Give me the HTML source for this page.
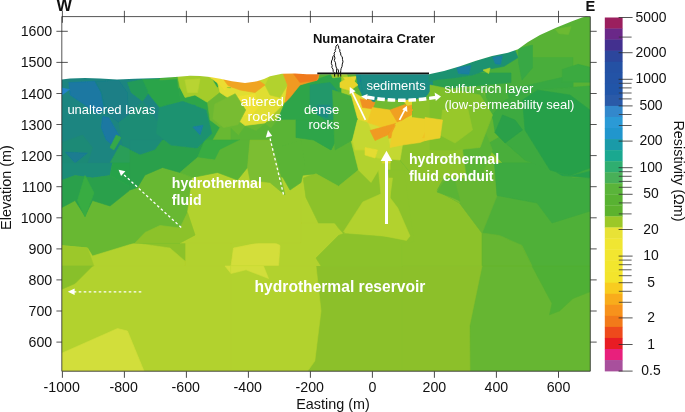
<!DOCTYPE html>
<html><head><meta charset="utf-8"><title>Resistivity section</title>
<style>
html,body{margin:0;padding:0;background:#fff;}
body{width:685px;height:412px;overflow:hidden;font-family:"Liberation Sans",Arial,sans-serif;}
svg text{font-family:"Liberation Sans",Arial,sans-serif;}
.tk{font-size:14.2px;fill:#111;}
.bd{font-weight:bold;fill:#111;}
.wl{fill:#fff;font-size:13px;}
.wb{fill:#fff;font-size:14.1px;font-weight:bold;}
</style></head><body>
<svg width="685" height="412" viewBox="0 0 685 412" style="display:block">
<defs><clipPath id="tc"><polygon points="61.8,79.5 70.0,78.6 85.0,78.0 100.0,78.6 117.0,79.4 135.0,78.8 160.0,78.0 175.0,77.0 190.0,75.8 200.0,76.0 210.0,77.0 220.0,78.8 232.0,81.2 245.0,83.0 257.0,81.3 264.0,79.0 270.0,76.3 282.0,73.8 295.0,73.6 307.0,74.3 317.0,74.2 340.0,74.2 380.0,74.2 429.0,74.2 444.0,71.0 460.0,66.2 476.0,60.7 492.0,55.9 508.0,52.7 518.0,49.2 528.0,42.1 540.0,35.0 556.0,27.7 572.0,21.2 582.0,17.5 586.0,16.4 590.3,17.0 590.3,371.2 61.8,371.2"/></clipPath>
<marker id="ah" viewBox="0 0 10 10" refX="7" refY="5" markerWidth="7" markerHeight="7" markerUnits="userSpaceOnUse" orient="auto"><path d="M0,0.8 L10,5 L0,9.2 z" fill="#fff"/></marker>
<filter id="bl" x="-2%" y="-2%" width="104%" height="104%"><feGaussianBlur stdDeviation="0.6"/></filter>
</defs>
<rect width="685" height="412" fill="#fff"/>
<path d="M56.4,342.1 H67.8" stroke="#2a2a2a" stroke-width="0.8"/>
<path d="M586.3,342.1 H596.6999999999999" stroke="#2a2a2a" stroke-width="0.8"/>
<text x="52.2" y="347.1" text-anchor="end" class="tk">600</text>
<path d="M56.4,311.0 H67.8" stroke="#2a2a2a" stroke-width="0.8"/>
<path d="M586.3,311.0 H596.6999999999999" stroke="#2a2a2a" stroke-width="0.8"/>
<text x="52.2" y="316.0" text-anchor="end" class="tk">700</text>
<path d="M56.4,279.9 H67.8" stroke="#2a2a2a" stroke-width="0.8"/>
<path d="M586.3,279.9 H596.6999999999999" stroke="#2a2a2a" stroke-width="0.8"/>
<text x="52.2" y="284.9" text-anchor="end" class="tk">800</text>
<path d="M56.4,248.9 H67.8" stroke="#2a2a2a" stroke-width="0.8"/>
<path d="M586.3,248.9 H596.6999999999999" stroke="#2a2a2a" stroke-width="0.8"/>
<text x="52.2" y="253.9" text-anchor="end" class="tk">900</text>
<path d="M56.4,217.8 H67.8" stroke="#2a2a2a" stroke-width="0.8"/>
<path d="M586.3,217.8 H596.6999999999999" stroke="#2a2a2a" stroke-width="0.8"/>
<text x="52.2" y="222.8" text-anchor="end" class="tk">1000</text>
<path d="M56.4,186.7 H67.8" stroke="#2a2a2a" stroke-width="0.8"/>
<path d="M586.3,186.7 H596.6999999999999" stroke="#2a2a2a" stroke-width="0.8"/>
<text x="52.2" y="191.7" text-anchor="end" class="tk">1100</text>
<path d="M56.4,155.6 H67.8" stroke="#2a2a2a" stroke-width="0.8"/>
<path d="M586.3,155.6 H596.6999999999999" stroke="#2a2a2a" stroke-width="0.8"/>
<text x="52.2" y="160.6" text-anchor="end" class="tk">1200</text>
<path d="M56.4,124.5 H67.8" stroke="#2a2a2a" stroke-width="0.8"/>
<path d="M586.3,124.5 H596.6999999999999" stroke="#2a2a2a" stroke-width="0.8"/>
<text x="52.2" y="129.5" text-anchor="end" class="tk">1300</text>
<path d="M56.4,93.5 H67.8" stroke="#2a2a2a" stroke-width="0.8"/>
<path d="M586.3,93.5 H596.6999999999999" stroke="#2a2a2a" stroke-width="0.8"/>
<text x="52.2" y="98.5" text-anchor="end" class="tk">1400</text>
<path d="M56.4,62.4 H67.8" stroke="#2a2a2a" stroke-width="0.8"/>
<path d="M586.3,62.4 H596.6999999999999" stroke="#2a2a2a" stroke-width="0.8"/>
<text x="52.2" y="67.4" text-anchor="end" class="tk">1500</text>
<path d="M56.4,31.3 H67.8" stroke="#2a2a2a" stroke-width="0.8"/>
<path d="M586.3,31.3 H596.6999999999999" stroke="#2a2a2a" stroke-width="0.8"/>
<text x="52.2" y="36.3" text-anchor="end" class="tk">1600</text>
<path d="M62.4,10.8 V22.8" stroke="#2a2a2a" stroke-width="0.8"/>
<path d="M62.4,371.2 V377.8" stroke="#333" stroke-width="0.9"/>
<text x="61.7" y="391.7" text-anchor="middle" class="tk">-1000</text>
<path d="M124.4,10.8 V22.8" stroke="#2a2a2a" stroke-width="0.8"/>
<path d="M124.4,371.2 V377.8" stroke="#333" stroke-width="0.9"/>
<text x="123.7" y="391.7" text-anchor="middle" class="tk">-800</text>
<path d="M186.4,10.8 V22.8" stroke="#2a2a2a" stroke-width="0.8"/>
<path d="M186.4,371.2 V377.8" stroke="#333" stroke-width="0.9"/>
<text x="185.8" y="391.7" text-anchor="middle" class="tk">-600</text>
<path d="M248.4,10.8 V22.8" stroke="#2a2a2a" stroke-width="0.8"/>
<path d="M248.4,371.2 V377.8" stroke="#333" stroke-width="0.9"/>
<text x="247.8" y="391.7" text-anchor="middle" class="tk">-400</text>
<path d="M310.4,10.8 V22.8" stroke="#2a2a2a" stroke-width="0.8"/>
<path d="M310.4,371.2 V377.8" stroke="#333" stroke-width="0.9"/>
<text x="309.8" y="391.7" text-anchor="middle" class="tk">-200</text>
<path d="M372.4,10.8 V22.8" stroke="#2a2a2a" stroke-width="0.8"/>
<path d="M372.4,371.2 V377.8" stroke="#333" stroke-width="0.9"/>
<text x="372.4" y="391.7" text-anchor="middle" class="tk">0</text>
<path d="M434.4,10.8 V22.8" stroke="#2a2a2a" stroke-width="0.8"/>
<path d="M434.4,371.2 V377.8" stroke="#333" stroke-width="0.9"/>
<text x="434.4" y="391.7" text-anchor="middle" class="tk">200</text>
<path d="M496.4,10.8 V22.8" stroke="#2a2a2a" stroke-width="0.8"/>
<path d="M496.4,371.2 V377.8" stroke="#333" stroke-width="0.9"/>
<text x="496.4" y="391.7" text-anchor="middle" class="tk">400</text>
<path d="M558.5,10.8 V22.8" stroke="#2a2a2a" stroke-width="0.8"/>
<path d="M558.5,371.2 V377.8" stroke="#333" stroke-width="0.9"/>
<text x="558.5" y="391.7" text-anchor="middle" class="tk">600</text>
<g clip-path="url(#tc)"><g filter="url(#bl)">
<rect x="60" y="10" width="535" height="365" fill="#58b234"/>
<polygon points="60.0,75.0 160.0,75.0 165.0,122.5 190.0,142.5 185.0,163.0 60.0,163.0" fill="#1c8580" stroke="#1c8580" stroke-width="0.6" stroke-linejoin="round"/>
<polygon points="160.0,75.0 231.0,75.0 231.0,163.0 185.0,163.0 190.0,142.5 165.0,122.5" fill="#2fa648" stroke="#2fa648" stroke-width="0.6" stroke-linejoin="round"/>
<polygon points="231.0,75.0 291.0,72.5 287.2,95.0 291.0,110.0 293.5,130.0 281.0,135.0 231.0,125.0" fill="#a6cc2c" stroke="#a6cc2c" stroke-width="0.6" stroke-linejoin="round"/>
<polygon points="231.0,117.5 246.0,123.8 261.0,121.2 281.0,132.5 293.5,127.5 306.0,145.0 301.0,163.0 231.0,163.0" fill="#74bc30" stroke="#74bc30" stroke-width="0.6" stroke-linejoin="round"/>
<polygon points="287.2,95.0 306.0,82.5 318.5,78.8 333.5,73.8 341.0,85.0 348.5,110.0 343.5,135.0 331.0,163.0 301.0,163.0 306.0,145.0 293.5,130.0 291.0,110.0" fill="#2ea548" stroke="#2ea548" stroke-width="0.6" stroke-linejoin="round"/>
<polygon points="402.0,72.5 484.5,57.5 573.0,57.5 573.0,163.0 402.0,163.0" fill="#48ae3a" stroke="#48ae3a" stroke-width="0.6" stroke-linejoin="round"/>
<polygon points="507.0,90.0 573.0,75.0 573.0,163.0 542.0,163.0 519.5,135.0" fill="#38a842" stroke="#38a842" stroke-width="0.6" stroke-linejoin="round"/>
<polygon points="60.0,163.0 231.0,163.0 231.0,266.0 60.0,266.0" fill="#68b832"/>
<polygon points="231.0,163.0 402.0,163.0 402.0,266.0 231.0,266.0" fill="#b2d22e"/>
<polygon points="402.0,163.0 592.0,163.0 592.0,266.0 402.0,266.0" fill="#50b038"/>
<polygon points="60.0,266.0 231.0,266.0 231.0,373.5 60.0,373.5" fill="#b2d22e"/>
<polygon points="231.0,266.0 402.0,266.0 402.0,373.5 231.0,373.5" fill="#8cc02a"/>
<polygon points="402.0,266.0 592.0,266.0 592.0,373.5 402.0,373.5" fill="#66b630"/>
<polygon points="68.8,82.5 95.0,81.2 101.2,92.5 103.8,110.0 97.5,113.8 85.0,105.0 70.0,95.0" fill="#1a78a2" stroke="#1a78a2" stroke-width="0.6" stroke-linejoin="round"/>
<polygon points="62.0,88.0 69.5,89.5 62.0,95.0" fill="#2284c8" stroke="#2284c8" stroke-width="0.6" stroke-linejoin="round"/>
<polygon points="95.0,81.2 118.8,80.0 127.5,92.5 128.8,115.0 118.8,122.5 106.2,113.8 101.2,92.5" fill="#1a7f86" stroke="#1a7f86" stroke-width="0.6" stroke-linejoin="round"/>
<polygon points="102.5,116.2 108.8,117.5 118.8,135.0 113.8,146.2 106.2,140.0 101.2,127.5" fill="#1a78a2" stroke="#1a78a2" stroke-width="0.6" stroke-linejoin="round"/>
<polygon points="127.5,82.5 142.5,79.5 148.8,92.5 142.5,101.2 131.2,92.5" fill="#239a58" stroke="#239a58" stroke-width="0.6" stroke-linejoin="round"/>
<polygon points="142.5,79.5 162.5,78.8 158.8,92.5 148.8,92.5" fill="#2aa44a" stroke="#2aa44a" stroke-width="0.6" stroke-linejoin="round"/>
<polygon points="160.0,78.8 177.5,77.5 182.5,90.0 177.5,110.0 165.0,105.0 158.8,92.5" fill="#50b038" stroke="#50b038" stroke-width="0.6" stroke-linejoin="round"/>
<polygon points="177.5,77.5 200.0,77.0 210.0,87.5 200.0,95.0 190.0,97.5 182.5,90.0" fill="#a4cc2c" stroke="#a4cc2c" stroke-width="0.6" stroke-linejoin="round"/>
<polygon points="180.0,80.0 192.5,78.8 190.0,95.0 182.5,90.0" fill="#b8d430" stroke="#b8d430" stroke-width="0.6" stroke-linejoin="round"/>
<polygon points="190.0,78.8 212.5,80.0 210.0,92.5 197.5,97.5" fill="#88c22c" stroke="#88c22c" stroke-width="0.6" stroke-linejoin="round"/>
<polygon points="215.0,79.5 231.0,81.2 231.0,87.5 222.5,86.2" fill="#f0dc28" stroke="#f0dc28" stroke-width="0.6" stroke-linejoin="round"/>
<polygon points="225.0,80.0 231.0,79.5 231.0,83.8" fill="#f2a820" stroke="#f2a820" stroke-width="0.6" stroke-linejoin="round"/>
<polygon points="207.5,87.5 231.0,87.5 231.0,102.5 220.0,107.5 210.0,102.5" fill="#8cc42c" stroke="#8cc42c" stroke-width="0.6" stroke-linejoin="round"/>
<polygon points="182.5,105.0 190.0,107.5 195.0,125.0 205.0,127.5 202.5,135.0 192.5,132.5 182.5,140.0 180.0,135.0 187.5,127.5" fill="#1f907a" stroke="#1f907a" stroke-width="0.6" stroke-linejoin="round"/>
<polygon points="210.0,105.0 216.2,110.0 215.0,142.5 210.0,150.0 206.2,135.0 207.5,120.0" fill="#239468" stroke="#239468" stroke-width="0.6" stroke-linejoin="round"/>
<polygon points="62.0,142.5 82.5,135.0 92.5,147.5 87.5,163.0 62.0,163.0" fill="#1d8a76" stroke="#1d8a76" stroke-width="0.6" stroke-linejoin="round"/>
<polygon points="65.0,152.0 87.5,153.0 75.0,163.0" fill="#1a7c90" stroke="#1a7c90" stroke-width="0.6" stroke-linejoin="round"/>
<polygon points="116.2,135.0 121.2,137.5 113.8,150.0 110.0,147.5" fill="#35a84a" stroke="#35a84a" stroke-width="0.6" stroke-linejoin="round"/>
<polygon points="142.5,101.2 160.0,125.0 163.8,142.5 142.5,155.0 122.5,145.0 118.8,122.5 128.8,115.0" fill="#1f8c74" stroke="#1f8c74" stroke-width="0.6" stroke-linejoin="round"/>
<polygon points="120.0,145.0 142.5,155.0 165.0,145.0 185.0,163.0 110.0,163.0" fill="#2a9e58" stroke="#2a9e58" stroke-width="0.6" stroke-linejoin="round"/>
<polygon points="190.0,142.5 210.0,150.0 220.0,163.0 195.0,163.0" fill="#4caf3a" stroke="#4caf3a" stroke-width="0.6" stroke-linejoin="round"/>
<polygon points="220.0,145.0 231.0,142.5 231.0,163.0 222.5,163.0" fill="#90c630" stroke="#90c630" stroke-width="0.6" stroke-linejoin="round"/>
<polygon points="231.0,81.2 246.0,83.0 258.5,79.5 253.5,87.5 241.0,89.2 231.0,87.5" fill="#f0a822" stroke="#f0a822" stroke-width="0.6" stroke-linejoin="round"/>
<polygon points="231.0,87.5 241.0,89.2 246.5,95.0 238.5,103.0 231.0,100.0" fill="#e8d830" stroke="#e8d830" stroke-width="0.6" stroke-linejoin="round"/>
<polygon points="236.0,105.5 248.5,103.0 251.5,115.5 241.0,120.0 233.5,115.5" fill="#dcd830" stroke="#dcd830" stroke-width="0.6" stroke-linejoin="round"/>
<polygon points="258.5,79.5 271.0,75.0 283.5,78.8 281.0,90.0 268.5,93.0 256.0,90.0" fill="#c6d82e" stroke="#c6d82e" stroke-width="0.6" stroke-linejoin="round"/>
<polygon points="272.2,74.5 291.0,73.0 282.2,83.8" fill="#ecd428" stroke="#ecd428" stroke-width="0.6" stroke-linejoin="round"/>
<polygon points="282.2,83.8 291.0,73.8 317.2,73.0 318.0,78.8 306.0,83.0 296.0,88.0 287.2,95.0 283.5,90.0" fill="#f29a20" stroke="#f29a20" stroke-width="0.6" stroke-linejoin="round"/>
<polygon points="298.5,75.0 316.5,73.5 316.5,79.0 306.0,81.5" fill="#f07a1c" stroke="#f07a1c" stroke-width="0.6" stroke-linejoin="round"/>
<polygon points="303.5,85.0 318.5,80.0 331.0,87.5 336.0,102.5 326.0,113.0 313.5,118.0 303.5,110.0 301.0,97.5" fill="#21986a" stroke="#21986a" stroke-width="0.6" stroke-linejoin="round"/>
<polygon points="306.0,112.5 316.0,117.5 311.5,125.5 303.5,120.0" fill="#1f9070" stroke="#1f9070" stroke-width="0.6" stroke-linejoin="round"/>
<polygon points="331.0,74.0 346.5,74.0 351.5,85.0 341.5,93.0 336.0,85.0" fill="#a0cc2c" stroke="#a0cc2c" stroke-width="0.6" stroke-linejoin="round"/>
<polygon points="343.5,77.5 356.5,76.5 351.5,88.0" fill="#e8d830" stroke="#e8d830" stroke-width="0.6" stroke-linejoin="round"/>
<polygon points="356.0,74.0 402.0,74.0 402.0,97.5 381.0,100.0 374.0,105.5 363.5,97.5 358.5,87.5" fill="#1a8c84" stroke="#1a8c84" stroke-width="0.6" stroke-linejoin="round"/>
<polygon points="360.2,80.0 363.5,80.0 363.0,85.0" fill="#2060b0" stroke="#2060b0" stroke-width="0.6" stroke-linejoin="round"/>
<polygon points="348.5,110.0 356.0,103.8 366.0,109.5 381.0,102.0 402.0,99.5 402.0,163.0 381.0,163.0 371.0,135.0 356.0,125.5" fill="#dcd830" stroke="#dcd830" stroke-width="0.6" stroke-linejoin="round"/>
<polygon points="358.5,97.5 371.0,100.0 374.0,106.5 366.0,109.2 356.0,104.0" fill="#f09020" stroke="#f09020" stroke-width="0.6" stroke-linejoin="round"/>
<polygon points="341.0,92.5 351.5,87.5 358.5,97.5 356.0,104.0 348.5,110.0" fill="#a4cc2c" stroke="#a4cc2c" stroke-width="0.6" stroke-linejoin="round"/>
<polygon points="373.5,130.5 391.0,122.5 402.0,120.0 402.0,133.0 386.0,135.5" fill="#f0a020" stroke="#f0a020" stroke-width="0.6" stroke-linejoin="round"/>
<polygon points="371.0,135.0 386.0,137.5 391.5,153.0 381.0,163.0 374.0,155.5" fill="#c0d630" stroke="#c0d630" stroke-width="0.6" stroke-linejoin="round"/>
<polygon points="343.5,135.0 356.0,125.5 371.0,135.0 374.0,155.5 381.0,163.0 331.0,163.0" fill="#a4cc2c" stroke="#a4cc2c" stroke-width="0.6" stroke-linejoin="round"/>
<polygon points="261.0,135.0 281.0,132.5 293.5,127.5 306.0,145.0 301.0,163.0 266.0,163.0" fill="#8cc42c" stroke="#8cc42c" stroke-width="0.6" stroke-linejoin="round"/>
<polygon points="402.0,72.5 429.5,72.5 430.0,90.0 417.0,95.0 402.0,97.5" fill="#1a8c84" stroke="#1a8c84" stroke-width="0.6" stroke-linejoin="round"/>
<polygon points="444.5,85.0 467.0,82.5 484.5,92.5 487.0,110.0 464.5,117.5 447.0,105.0" fill="#7cbe30" stroke="#7cbe30" stroke-width="0.6" stroke-linejoin="round"/>
<polygon points="417.0,95.0 430.0,90.0 447.0,97.5 459.5,103.0 464.5,135.0 442.0,143.0 439.5,135.0 442.0,117.5 427.0,102.5" fill="#98c82c" stroke="#98c82c" stroke-width="0.6" stroke-linejoin="round"/>
<polygon points="402.0,97.5 417.0,95.0 427.0,102.5 442.0,117.5 439.5,135.0 419.5,143.0 402.0,143.0" fill="#e4d82c" stroke="#e4d82c" stroke-width="0.6" stroke-linejoin="round"/>
<polygon points="402.0,107.5 412.0,105.0 415.0,113.0 402.0,120.0" fill="#f0a020" stroke="#f0a020" stroke-width="0.6" stroke-linejoin="round"/>
<polygon points="427.0,122.5 442.0,117.5 440.8,135.0 424.5,138.0" fill="#f0c424" stroke="#f0c424" stroke-width="0.6" stroke-linejoin="round"/>
<polygon points="497.0,117.5 507.0,115.0 519.5,127.5 512.0,138.0 494.5,135.0" fill="#2c9f4c" stroke="#2c9f4c" stroke-width="0.6" stroke-linejoin="round"/>
<polygon points="402.0,143.0 419.5,143.0 439.5,135.0 464.5,135.0 484.5,145.0 502.0,163.0 402.0,163.0" fill="#8cc42c" stroke="#8cc42c" stroke-width="0.6" stroke-linejoin="round"/>
<polygon points="464.5,117.5 487.0,110.0 502.0,135.0 484.5,145.0 464.5,135.0" fill="#64b632" stroke="#64b632" stroke-width="0.6" stroke-linejoin="round"/>
<polygon points="60.0,163.0 112.5,163.0 110.0,175.5 92.5,178.0 75.0,175.5 60.0,181.0" fill="#1f8c78" stroke="#1f8c78" stroke-width="0.6" stroke-linejoin="round"/>
<polygon points="60.0,181.0 75.0,175.5 92.5,178.0 110.0,175.5 132.5,188.0 110.0,206.0 92.5,200.5 85.0,216.0 75.0,200.5 60.0,208.5" fill="#2aa04c" stroke="#2aa04c" stroke-width="0.6" stroke-linejoin="round"/>
<polygon points="85.0,175.5 94.0,193.0 85.0,217.0 77.5,200.5" fill="#38ac42" stroke="#38ac42" stroke-width="0.6" stroke-linejoin="round"/>
<polygon points="112.5,163.0 147.5,163.0 142.5,178.0 132.5,188.0 110.0,175.5" fill="#28a24a" stroke="#28a24a" stroke-width="0.6" stroke-linejoin="round"/>
<polygon points="147.5,163.0 190.0,163.0 180.0,173.0 160.0,188.0 142.5,178.0" fill="#4cb038" stroke="#4cb038" stroke-width="0.6" stroke-linejoin="round"/>
<polygon points="180.0,173.0 231.0,170.5 231.0,266.0 185.0,266.0 185.0,240.5 197.5,235.5 190.0,208.0" fill="#b2d22e" stroke="#b2d22e" stroke-width="0.6" stroke-linejoin="round"/>
<polygon points="135.0,243.0 142.5,238.0 160.0,225.5 180.0,228.5 190.0,208.0 197.5,235.5 185.0,240.5 185.0,261.0 170.0,248.0" fill="#8cc22c" stroke="#8cc22c" stroke-width="0.6" stroke-linejoin="round"/>
<polygon points="60.0,245.5 87.5,248.0 92.5,256.0 135.0,243.0 170.0,248.0 185.0,261.0 185.0,266.0 60.0,266.0" fill="#b2d22e" stroke="#b2d22e" stroke-width="0.6" stroke-linejoin="round"/>
<polygon points="60.0,245.5 87.5,248.0 93.8,266.0 60.0,266.0" fill="#9cc82c" stroke="#9cc82c" stroke-width="0.6" stroke-linejoin="round"/>
<polygon points="231.0,163.0 276.0,163.0 281.0,178.0 256.0,175.5 246.0,168.0 231.0,178.5" fill="#84c02c" stroke="#84c02c" stroke-width="0.6" stroke-linejoin="round"/>
<polygon points="276.0,163.0 358.5,163.0 356.0,173.0 338.5,187.0 316.0,173.0 281.0,178.0" fill="#68b632" stroke="#68b632" stroke-width="0.6" stroke-linejoin="round"/>
<polygon points="303.5,178.0 316.0,173.0 338.5,187.0 356.0,173.0 371.0,183.0 378.5,170.5 381.0,195.5 361.0,205.5 343.5,233.5 338.5,228.0 316.0,198.0 303.5,198.0" fill="#8cc22c" stroke="#8cc22c" stroke-width="0.6" stroke-linejoin="round"/>
<polygon points="281.0,178.0 296.5,180.5 287.2,200.5" fill="#8cc22c" stroke="#8cc22c" stroke-width="0.6" stroke-linejoin="round"/>
<polygon points="391.0,163.0 402.0,163.0 402.0,266.0 321.0,266.0 316.0,258.0 338.5,235.5 343.5,233.5 402.0,238.0 391.0,213.0" fill="#8cc22c" stroke="#8cc22c" stroke-width="0.6" stroke-linejoin="round"/>
<polygon points="233.5,248.0 271.0,240.5 280.0,245.5 278.5,266.0 231.0,266.0" fill="#d4de3a" stroke="#d4de3a" stroke-width="0.6" stroke-linejoin="round"/>
<polygon points="402.0,163.0 452.0,163.0 437.0,190.5 459.5,203.0 482.0,233.0 482.0,266.0 402.0,266.0" fill="#8cc22c" stroke="#8cc22c" stroke-width="0.6" stroke-linejoin="round"/>
<polygon points="402.0,218.0 409.5,235.5 402.0,240.5" fill="#b2d22e" stroke="#b2d22e" stroke-width="0.6" stroke-linejoin="round"/>
<polygon points="452.0,163.0 494.5,163.0 497.0,195.5 482.0,233.0 459.5,203.0 437.0,190.5" fill="#66b632" stroke="#66b632" stroke-width="0.6" stroke-linejoin="round"/>
<polygon points="437.0,190.5 452.0,183.0 459.5,203.0" fill="#7cbe30" stroke="#7cbe30" stroke-width="0.6" stroke-linejoin="round"/>
<polygon points="482.0,233.0 499.5,235.5 522.0,245.5 532.0,266.0 482.0,266.0" fill="#66b630" stroke="#66b630" stroke-width="0.6" stroke-linejoin="round"/>
<polygon points="494.5,163.0 542.0,163.0 573.0,178.0 592.0,178.0 592.0,210.5 552.0,223.0 537.0,203.0 497.0,195.5" fill="#3caa40" stroke="#3caa40" stroke-width="0.6" stroke-linejoin="round"/>
<polygon points="542.0,163.0 592.0,163.0 592.0,178.0 562.0,175.5" fill="#28a04c" stroke="#28a04c" stroke-width="0.6" stroke-linejoin="round"/>
<polygon points="60.0,266.0 92.5,266.0 75.0,283.5 60.0,290.0" fill="#88c02c" stroke="#88c02c" stroke-width="0.6" stroke-linejoin="round"/>
<polygon points="60.0,354.0 117.5,328.5 127.5,331.0 145.0,373.5 60.0,373.5" fill="#d2de3a" stroke="#d2de3a" stroke-width="0.6" stroke-linejoin="round"/>
<polygon points="225.0,266.0 231.0,266.0 231.0,273.5" fill="#d2de3a" stroke="#d2de3a" stroke-width="0.6" stroke-linejoin="round"/>
<polygon points="231.0,266.0 316.0,266.0 321.0,311.0 314.8,361.0 306.0,373.5 231.0,373.5" fill="#b2d22e" stroke="#b2d22e" stroke-width="0.6" stroke-linejoin="round"/>
<polygon points="231.0,266.0 263.5,266.0 268.5,278.5 246.0,269.8 231.0,273.5" fill="#d2de3a" stroke="#d2de3a" stroke-width="0.6" stroke-linejoin="round"/>
<polygon points="402.0,266.0 482.0,266.0 469.5,326.0 470.0,373.5 402.0,373.5" fill="#8cc02a" stroke="#8cc02a" stroke-width="0.6" stroke-linejoin="round"/>
<polygon points="532.0,266.0 592.0,266.0 592.0,291.0 573.0,298.5 559.5,311.0 549.5,314.8 552.0,303.5" fill="#50b034" stroke="#50b034" stroke-width="0.6" stroke-linejoin="round"/>
<polygon points="170.0,92.5 180.0,87.5 185.0,97.5 195.0,95.0 207.5,102.5 210.0,120.0 220.0,127.5 210.0,145.0 170.0,140.0" fill="#2fa648" stroke="#2fa648" stroke-width="0.6" stroke-linejoin="round"/>
<polygon points="170.0,140.0 210.0,145.0 207.5,173.0 170.0,173.0" fill="#38a844" stroke="#38a844" stroke-width="0.6" stroke-linejoin="round"/>
<polygon points="160.0,97.5 177.5,110.0 180.0,135.0 170.0,143.0 160.0,125.0" fill="#1f9070" stroke="#1f9070" stroke-width="0.6" stroke-linejoin="round"/>
<polygon points="220.0,127.5 232.5,120.0 245.0,125.0 265.0,122.5 277.5,120.0 295.0,140.0 310.0,135.0 330.0,152.5 341.0,145.0 341.0,173.0 207.5,173.0 210.0,145.0" fill="#68b832" stroke="#68b832" stroke-width="0.6" stroke-linejoin="round"/>
<polygon points="170.0,75.0 177.5,75.0 180.0,87.5 170.0,92.5" fill="#50b038" stroke="#50b038" stroke-width="0.6" stroke-linejoin="round"/>
<polygon points="177.5,75.0 210.0,76.0 220.0,92.5 207.5,102.5 195.0,95.0 185.0,97.5 180.0,87.5" fill="#a4cc2c" stroke="#a4cc2c" stroke-width="0.6" stroke-linejoin="round"/>
<polygon points="185.0,80.0 200.0,78.8 197.5,92.5 187.5,92.5" fill="#b8d430" stroke="#b8d430" stroke-width="0.6" stroke-linejoin="round"/>
<polygon points="207.5,102.5 220.0,92.5 235.0,102.5 232.5,120.0 220.0,127.5 210.0,120.0" fill="#6cb832" stroke="#6cb832" stroke-width="0.6" stroke-linejoin="round"/>
<polygon points="180.0,107.5 195.0,105.0 202.5,127.5 195.0,135.0 182.5,140.5 175.0,127.5" fill="#1f907a" stroke="#1f907a" stroke-width="0.6" stroke-linejoin="round"/>
<polygon points="192.5,127.5 202.5,126.2 200.0,135.0" fill="#1a80a0" stroke="#1a80a0" stroke-width="0.6" stroke-linejoin="round"/>
<polygon points="217.5,82.5 225.0,87.5 240.0,90.0 255.0,92.5 265.0,85.0 270.0,75.0 282.5,72.5 287.5,85.0 285.0,102.5 275.0,112.5 265.0,123.0 245.0,125.5 235.0,117.5 235.0,102.5 220.0,92.5" fill="#e0de30" stroke="#e0de30" stroke-width="0.6" stroke-linejoin="round"/>
<polygon points="232.5,97.5 255.0,94.0 258.0,107.5 252.5,114.0 237.0,116.5" fill="#eee030" stroke="#eee030" stroke-width="0.6" stroke-linejoin="round"/>
<polygon points="265.0,85.0 270.0,75.0 282.5,72.5 287.5,85.0 280.0,97.5 270.0,95.0" fill="#b2d22e" stroke="#b2d22e" stroke-width="0.6" stroke-linejoin="round"/>
<polygon points="207.5,75.5 223.8,79.0 228.0,85.5 225.0,90.0 217.5,83.0" fill="#ecdc30" stroke="#ecdc30" stroke-width="0.6" stroke-linejoin="round"/>
<polygon points="223.0,78.5 227.5,79.5 245.0,81.5 257.5,79.5 265.0,85.0 255.0,92.5 240.0,90.0 228.0,85.5" fill="#f0a422" stroke="#f0a422" stroke-width="0.6" stroke-linejoin="round"/>
<polygon points="290.0,97.5 300.0,85.0 317.5,80.0 341.0,77.5 341.0,145.0 330.0,152.5 310.0,135.0 295.0,140.0 277.5,120.0 285.0,102.5" fill="#2ea548" stroke="#2ea548" stroke-width="0.6" stroke-linejoin="round"/>
<polygon points="310.0,85.0 330.0,82.5 341.0,95.0 341.0,120.0 325.0,120.0 310.0,107.5" fill="#21986a" stroke="#21986a" stroke-width="0.6" stroke-linejoin="round"/>
<polygon points="317.5,105.0 330.0,105.0 327.5,117.5 317.5,115.0" fill="#1f8c80" stroke="#1f8c80" stroke-width="0.6" stroke-linejoin="round"/>
<polygon points="282.5,72.0 320.0,72.0 317.5,80.0 300.0,85.0 290.0,97.5 285.0,102.5 287.5,85.0" fill="#f09a20" stroke="#f09a20" stroke-width="0.6" stroke-linejoin="round"/>
<polygon points="292.5,72.5 319.0,72.5 316.5,80.5 300.0,82.5" fill="#f07a1c" stroke="#f07a1c" stroke-width="0.6" stroke-linejoin="round"/>
<polygon points="231.0,128.5 238.5,135.5 245.0,126.5 256.0,131.0 265.0,124.0 271.0,128.5 277.5,120.0 296.0,120.0 296.0,137.5 313.5,140.0 331.0,150.0 338.5,135.0 351.0,140.0 358.5,170.0 338.5,186.2 316.0,173.8 281.0,177.5 256.0,173.8 246.0,167.5 231.0,178.8" fill="#5ab436" stroke="#5ab436" stroke-width="0.6" stroke-linejoin="round"/>
<polygon points="296.0,120.0 341.0,120.0 338.5,135.0 331.0,150.0 313.5,140.0 296.0,137.5" fill="#2ea548" stroke="#2ea548" stroke-width="0.6" stroke-linejoin="round"/>
<polygon points="231.0,150.0 248.5,145.0 261.0,160.0 256.0,173.8 246.0,167.5 231.0,178.8" fill="#74bc30" stroke="#74bc30" stroke-width="0.6" stroke-linejoin="round"/>
<polygon points="231.0,178.8 246.0,167.5 256.0,173.8 281.0,177.5 303.5,180.0 306.0,197.5 318.5,223.0 231.0,223.0" fill="#b2d22e" stroke="#b2d22e" stroke-width="0.6" stroke-linejoin="round"/>
<polygon points="303.5,180.0 316.0,173.8 338.5,186.2 358.5,170.0 371.0,182.5 378.5,170.0 381.0,195.0 361.0,205.0 351.0,223.0 318.5,223.0 306.0,197.5" fill="#8cc22c" stroke="#8cc22c" stroke-width="0.6" stroke-linejoin="round"/>
<polygon points="353.5,120.0 402.0,120.0 402.0,155.0 381.0,157.5 366.0,150.0 356.0,135.0" fill="#d8dc34" stroke="#d8dc34" stroke-width="0.6" stroke-linejoin="round"/>
<polygon points="373.5,132.5 393.5,125.0 402.0,127.5 402.0,135.5 381.0,140.0" fill="#f0a020" stroke="#f0a020" stroke-width="0.6" stroke-linejoin="round"/>
<polygon points="366.0,150.0 378.5,143.8 383.5,157.5 373.5,155.0" fill="#ecdc30" stroke="#ecdc30" stroke-width="0.6" stroke-linejoin="round"/>
<polygon points="356.0,135.0 366.0,150.0 381.0,157.5 384.0,195.0 381.0,195.0 378.5,170.0 371.0,182.5 358.5,170.0 351.0,140.0" fill="#b2d22e" stroke="#b2d22e" stroke-width="0.6" stroke-linejoin="round"/>
<polygon points="391.0,157.5 402.0,155.0 402.0,223.0 391.0,223.0" fill="#8cc22c" stroke="#8cc22c" stroke-width="0.6" stroke-linejoin="round"/>
<polygon points="130.0,190.0 137.5,187.5 145.0,175.0 162.5,167.5 180.0,172.5 192.5,177.5 187.5,212.5 195.0,235.0 180.0,243.0 130.0,243.0" fill="#68b832" stroke="#68b832" stroke-width="0.6" stroke-linejoin="round"/>
<polygon points="192.5,177.5 217.5,172.5 237.5,180.0 247.5,167.5 250.0,180.0 270.0,182.5 285.0,195.0 290.0,190.0 301.0,182.5 301.0,243.0 180.0,243.0 195.0,235.0 187.5,212.5" fill="#b2d22e" stroke="#b2d22e" stroke-width="0.6" stroke-linejoin="round"/>
<polygon points="130.0,140.0 162.5,140.0 155.0,150.0 140.0,155.0 130.0,150.0" fill="#1f8c78" stroke="#1f8c78" stroke-width="0.6" stroke-linejoin="round"/>
<polygon points="130.0,150.0 140.0,155.0 155.0,150.0 162.5,140.0 205.0,140.0 197.5,157.5 180.0,172.5 162.5,167.5 145.0,175.0 137.5,187.5 130.0,190.0" fill="#2aa04c" stroke="#2aa04c" stroke-width="0.6" stroke-linejoin="round"/>
<polygon points="205.0,140.0 240.0,140.0 220.0,150.0 215.0,160.0 197.5,157.5" fill="#38ac42" stroke="#38ac42" stroke-width="0.6" stroke-linejoin="round"/>
<polygon points="180.0,172.5 197.5,157.5 215.0,160.0 220.0,150.0 240.0,140.0 250.0,140.0 247.5,167.5 237.5,180.0 217.5,172.5 192.5,177.5" fill="#5ab436" stroke="#5ab436" stroke-width="0.6" stroke-linejoin="round"/>
<polygon points="250.0,140.0 270.0,140.0 280.0,172.5 285.0,195.0 270.0,182.5 250.0,180.0 247.5,167.5" fill="#7cbe30" stroke="#7cbe30" stroke-width="0.6" stroke-linejoin="round"/>
<polygon points="277.5,147.5 301.0,140.0 305.0,165.0 301.0,182.5 290.0,190.0 280.0,172.5" fill="#5ab436" stroke="#5ab436" stroke-width="0.6" stroke-linejoin="round"/>
<polygon points="135.0,243.0 145.0,232.5 160.0,225.5 180.0,228.0 187.5,212.5 195.0,235.0 180.0,243.0" fill="#8cc22c" stroke="#8cc22c" stroke-width="0.6" stroke-linejoin="round"/>
<polygon points="412.5,99.0 440.0,90.0 480.0,87.5 490.0,105.0 482.5,125.0 492.5,150.0 480.0,178.0 415.0,178.0 400.0,160.0 402.5,145.0 420.0,142.5 440.0,135.0 442.5,117.5 432.5,120.0 412.5,117.5 412.5,110.0" fill="#5ab436" stroke="#5ab436" stroke-width="0.6" stroke-linejoin="round"/>
<polygon points="412.5,100.0 440.0,99.0 460.0,105.0 468.8,125.0 462.5,150.0 466.2,178.0 415.0,178.0 400.0,160.0 402.5,145.0 420.0,142.5 440.0,135.0 442.5,117.5 432.5,120.0 412.5,117.5 412.5,110.0" fill="#8cc22c" stroke="#8cc22c" stroke-width="0.6" stroke-linejoin="round"/>
<polygon points="332.5,90.0 355.0,97.5 357.5,120.0 352.5,140.0 335.0,150.0" fill="#44ac3c" stroke="#44ac3c" stroke-width="0.6" stroke-linejoin="round"/>
<polygon points="360.0,73.0 432.0,73.0 433.5,87.0 425.0,97.5 402.5,100.0 377.5,98.8 362.5,95.0" fill="#1a8c84" stroke="#1a8c84" stroke-width="0.6" stroke-linejoin="round"/>
<polygon points="432.0,73.0 511.0,73.0 511.0,82.5 452.5,88.0 440.0,90.5 433.5,87.0" fill="#2a9f50" stroke="#2a9f50" stroke-width="0.6" stroke-linejoin="round"/>
<polygon points="376.5,99.5 402.5,100.5 406.0,105.0 390.0,110.5 372.5,108.0 374.5,102.5" fill="#70ba30" stroke="#70ba30" stroke-width="0.6" stroke-linejoin="round"/>
<polygon points="340.0,82.5 350.0,77.0 358.0,85.0 350.0,90.5 340.0,87.5" fill="#e8d42c" stroke="#e8d42c" stroke-width="0.6" stroke-linejoin="round"/>
<polygon points="350.0,90.5 362.5,97.5 372.5,107.5 367.5,122.5 357.5,118.0" fill="#e8d830" stroke="#e8d830" stroke-width="0.6" stroke-linejoin="round"/>
<polygon points="352.5,140.0 357.5,120.0 367.5,122.5 375.0,140.0 387.5,135.0 390.0,147.5 402.5,145.0 400.0,160.0 377.5,158.0 365.0,150.0 355.0,150.0" fill="#c4d830" stroke="#c4d830" stroke-width="0.6" stroke-linejoin="round"/>
<polygon points="360.0,98.8 375.0,102.5 372.5,108.8 362.5,107.5" fill="#f09020" stroke="#f09020" stroke-width="0.6" stroke-linejoin="round"/>
<polygon points="372.5,107.5 390.0,110.0 397.5,122.5 385.0,128.0 367.5,122.5" fill="#f0c828" stroke="#f0c828" stroke-width="0.6" stroke-linejoin="round"/>
<polygon points="390.0,110.0 405.0,104.5 413.0,110.0 400.0,122.5 397.5,122.5" fill="#f0a020" stroke="#f0a020" stroke-width="0.6" stroke-linejoin="round"/>
<polygon points="370.0,130.5 395.5,123.5 387.5,135.0 375.0,140.5" fill="#f09a20" stroke="#f09a20" stroke-width="0.6" stroke-linejoin="round"/>
<polygon points="397.5,122.5 412.5,117.5 432.5,120.0 442.5,117.5 440.0,135.0 420.0,142.5 402.5,145.0 390.0,147.5 392.5,132.5" fill="#ecd02c" stroke="#ecd02c" stroke-width="0.6" stroke-linejoin="round"/>
<polygon points="432.5,116.5 443.0,117.5 440.5,135.0 422.5,138.0" fill="#f0c424" stroke="#f0c424" stroke-width="0.6" stroke-linejoin="round"/>
<polygon points="365.0,147.5 377.5,150.0 375.0,158.0 365.0,155.0" fill="#e4dc30" stroke="#e4dc30" stroke-width="0.6" stroke-linejoin="round"/>
<polygon points="492.5,115.0 505.0,100.0 537.5,90.0 602.5,85.0 602.5,167.5 570.0,175.5 550.0,170.0 525.0,160.0 505.0,142.5 495.0,132.5" fill="#3caa40" stroke="#3caa40" stroke-width="0.6" stroke-linejoin="round"/>
<polygon points="522.5,100.0 537.5,90.0 570.0,95.0 590.0,110.0 591.2,167.5 570.0,175.5 550.0,170.0 537.5,150.0 525.0,130.0" fill="#28a048" stroke="#28a048" stroke-width="0.6" stroke-linejoin="round"/>
<polygon points="495.0,132.5 502.5,115.0 515.0,120.0 522.5,130.0 505.0,143.0" fill="#2aa048" stroke="#2aa048" stroke-width="0.6" stroke-linejoin="round"/>
<polygon points="430.0,85.0 480.0,95.0 492.5,115.0 480.0,147.5 455.0,150.0 430.0,150.0" fill="#80c02c" stroke="#80c02c" stroke-width="0.6" stroke-linejoin="round"/>
<polygon points="442.5,110.0 467.5,107.5 472.5,130.0 455.0,143.0 440.0,135.0" fill="#98c82c" stroke="#98c82c" stroke-width="0.6" stroke-linejoin="round"/>
<polygon points="425.0,117.5 442.5,120.0 440.0,138.0 425.0,140.5" fill="#ecd02c" stroke="#ecd02c" stroke-width="0.6" stroke-linejoin="round"/>
<polygon points="388.0,170.0 404.0,170.0 414.0,242.0 400.0,244.0 392.0,200.0" fill="#8cc22c" stroke="#8cc22c" stroke-width="0.6" stroke-linejoin="round"/>
<polygon points="343.5,231.7 362.8,201.9 382.9,193.1 385.5,178.0 392.5,178.0 389.9,197.5 397.8,208.0 410.0,236.0 406.5,240.4 375.0,234.3" fill="#b2d22e" stroke="#b2d22e" stroke-width="0.6" stroke-linejoin="round"/>
<polygon points="437.0,192.0 447.0,178.0 454.0,178.0 460.0,201.0 452.0,197.5" fill="#5ab436" stroke="#5ab436" stroke-width="0.6" stroke-linejoin="round"/>
<polygon points="159.3,107.1 182.6,101.3 206.0,110.0 211.8,133.4 197.2,148.0 170.9,145.1 156.4,133.4" fill="#1f9270" stroke="#1f9270" stroke-width="0.6" stroke-linejoin="round"/>
<polygon points="192.8,127.0 203.1,125.2 200.1,134.9" fill="#1a80a0" stroke="#1a80a0" stroke-width="0.6" stroke-linejoin="round"/>
<polygon points="214.7,104.2 235.2,93.7 245.7,110.0 238.1,124.6 223.5,127.6 213.0,118.8" fill="#78bc30" stroke="#78bc30" stroke-width="0.6" stroke-linejoin="round"/>
<polygon points="156.4,80.8 176.8,79.4 179.7,101.3 159.3,107.1 147.6,92.5" fill="#2aa44a" stroke="#2aa44a" stroke-width="0.6" stroke-linejoin="round"/>
<polygon points="428.8,72.4 446.3,69.8 463.8,65.0 481.3,59.3 498.8,54.0 514.6,49.6 518.1,57.5 504.1,66.3 490.1,68.9 472.5,75.0 455.0,77.7 437.5,79.4 428.8,82.0" fill="#1f9270" stroke="#1f9270" stroke-width="0.6" stroke-linejoin="round"/>
<polygon points="456.8,67.7 470.8,65.6 469.0,74.3 458.5,73.6" fill="#1a7fa0" stroke="#1a7fa0" stroke-width="0.6" stroke-linejoin="round"/>
<polygon points="492.7,57.2 502.3,55.8 500.6,64.5 495.3,63.8" fill="#1a80a0" stroke="#1a80a0" stroke-width="0.6" stroke-linejoin="round"/>
<polygon points="483.0,70.1 490.1,68.0 488.7,73.6" fill="#b2d22e" stroke="#b2d22e" stroke-width="0.6" stroke-linejoin="round"/>
<polygon points="555.3,29.3 571.1,26.6 568.4,34.5 558.8,33.6" fill="#6cba30" stroke="#6cba30" stroke-width="0.6" stroke-linejoin="round"/>
<polygon points="562.3,69.5 578.1,64.3 592.1,67.8 592.1,82.2 562.3,82.2" fill="#3aaa40" stroke="#3aaa40" stroke-width="0.6" stroke-linejoin="round"/>
<polygon points="518.5,48.5 532.5,45.0 532.5,67.8 522.0,80.1 518.5,62.5" fill="#38a844" stroke="#38a844" stroke-width="0.6" stroke-linejoin="round"/>
</g></g>
<path d="M61.8,371.2 V16.6 H590.3 V371.2" fill="none" stroke="#2a2a2a" stroke-width="0.8"/>
<path d="M61.8,371.2 H590.3" fill="none" stroke="#333" stroke-width="0.9"/>
<text x="333" y="408.8" text-anchor="middle" class="tk" style="font-size:14.4px">Easting (m)</text>
<text transform="translate(11,187.5) rotate(-90)" text-anchor="middle" class="tk" style="font-size:14.4px">Elevation (m)</text>
<text x="56.4" y="11.1" class="bd" style="font-size:16.4px">W</text>
<text x="585.4" y="10.6" class="bd" style="font-size:14.6px">E</text>
<rect x="604.8" y="17.50" width="17.8" height="11.35" fill="#9b1f5e"/>
<rect x="604.8" y="28.55" width="17.8" height="11.35" fill="#6a2888"/>
<rect x="604.8" y="39.60" width="17.8" height="11.35" fill="#43308f"/>
<rect x="604.8" y="50.65" width="17.8" height="11.35" fill="#2c469c"/>
<rect x="604.8" y="61.70" width="17.8" height="11.35" fill="#2451a4"/>
<rect x="604.8" y="72.75" width="17.8" height="11.35" fill="#2353a6"/>
<rect x="604.8" y="83.80" width="17.8" height="11.35" fill="#2155a8"/>
<rect x="604.8" y="94.85" width="17.8" height="11.35" fill="#2a5aa8"/>
<rect x="604.8" y="105.90" width="17.8" height="11.35" fill="#3388cc"/>
<rect x="604.8" y="116.95" width="17.8" height="11.35" fill="#2b9ad6"/>
<rect x="604.8" y="128.00" width="17.8" height="11.35" fill="#2196cd"/>
<rect x="604.8" y="139.05" width="17.8" height="11.35" fill="#1a9aa8"/>
<rect x="604.8" y="150.10" width="17.8" height="11.35" fill="#1aa890"/>
<rect x="604.8" y="161.15" width="17.8" height="11.35" fill="#2fae70"/>
<rect x="604.8" y="172.20" width="17.8" height="11.35" fill="#48b058"/>
<rect x="604.8" y="183.25" width="17.8" height="11.35" fill="#5ab43a"/>
<rect x="604.8" y="194.30" width="17.8" height="11.35" fill="#58b232"/>
<rect x="604.8" y="205.35" width="17.8" height="11.35" fill="#5cb22e"/>
<rect x="604.8" y="216.40" width="17.8" height="11.35" fill="#9cc828"/>
<rect x="604.8" y="227.45" width="17.8" height="11.35" fill="#e8e236"/>
<rect x="604.8" y="238.50" width="17.8" height="11.35" fill="#f0e632"/>
<rect x="604.8" y="249.55" width="17.8" height="11.35" fill="#f2e630"/>
<rect x="604.8" y="260.60" width="17.8" height="11.35" fill="#f2e62e"/>
<rect x="604.8" y="271.65" width="17.8" height="11.35" fill="#f3e42c"/>
<rect x="604.8" y="282.70" width="17.8" height="11.35" fill="#f8cc20"/>
<rect x="604.8" y="293.75" width="17.8" height="11.35" fill="#f8ac1c"/>
<rect x="604.8" y="304.80" width="17.8" height="11.35" fill="#f7921c"/>
<rect x="604.8" y="315.85" width="17.8" height="11.35" fill="#f27a1a"/>
<rect x="604.8" y="326.90" width="17.8" height="11.35" fill="#ee4a1c"/>
<rect x="604.8" y="337.95" width="17.8" height="11.35" fill="#e81c24"/>
<rect x="604.8" y="349.00" width="17.8" height="11.35" fill="#e8207c"/>
<rect x="604.8" y="360.05" width="17.8" height="11.35" fill="#a8509c"/>
<path d="M618.6,17.5 H632.6" stroke="#2a2a2a" stroke-width="0.8"/>
<text x="651" y="21.6" text-anchor="middle" class="tk" style="font-size:13.9px">5000</text>
<path d="M618.6,52.7 H632.6" stroke="#2a2a2a" stroke-width="0.8"/>
<text x="651" y="56.8" text-anchor="middle" class="tk" style="font-size:13.9px">2000</text>
<path d="M618.6,79.3 H632.6" stroke="#2a2a2a" stroke-width="0.8"/>
<text x="651" y="83.4" text-anchor="middle" class="tk" style="font-size:13.9px">1000</text>
<path d="M618.6,105.9 H632.6" stroke="#2a2a2a" stroke-width="0.8"/>
<text x="651" y="110.0" text-anchor="middle" class="tk" style="font-size:13.9px">500</text>
<path d="M618.6,141.1 H632.6" stroke="#2a2a2a" stroke-width="0.8"/>
<text x="651" y="145.2" text-anchor="middle" class="tk" style="font-size:13.9px">200</text>
<path d="M618.6,167.7 H632.6" stroke="#2a2a2a" stroke-width="0.8"/>
<text x="651" y="171.8" text-anchor="middle" class="tk" style="font-size:13.9px">100</text>
<path d="M618.6,194.3 H632.6" stroke="#2a2a2a" stroke-width="0.8"/>
<text x="651" y="198.4" text-anchor="middle" class="tk" style="font-size:13.9px">50</text>
<path d="M618.6,229.5 H632.6" stroke="#2a2a2a" stroke-width="0.8"/>
<text x="651" y="233.6" text-anchor="middle" class="tk" style="font-size:13.9px">20</text>
<path d="M618.6,256.1 H632.6" stroke="#2a2a2a" stroke-width="0.8"/>
<text x="651" y="260.2" text-anchor="middle" class="tk" style="font-size:13.9px">10</text>
<path d="M618.6,282.7 H632.6" stroke="#2a2a2a" stroke-width="0.8"/>
<text x="651" y="286.8" text-anchor="middle" class="tk" style="font-size:13.9px">5</text>
<path d="M618.6,317.9 H632.6" stroke="#2a2a2a" stroke-width="0.8"/>
<text x="651" y="322.0" text-anchor="middle" class="tk" style="font-size:13.9px">2</text>
<path d="M618.6,344.5 H632.6" stroke="#2a2a2a" stroke-width="0.8"/>
<text x="651" y="348.6" text-anchor="middle" class="tk" style="font-size:13.9px">1</text>
<path d="M618.6,371.1 H632.6" stroke="#2a2a2a" stroke-width="0.8"/>
<text x="651" y="375.2" text-anchor="middle" class="tk" style="font-size:13.9px">0.5</text>
<path d="M618.8,37.1 H631.6" stroke="#333" stroke-width="0.8"/>
<path d="M618.8,83.3 H631.6" stroke="#333" stroke-width="0.8"/>
<path d="M618.8,87.9 H631.6" stroke="#333" stroke-width="0.8"/>
<path d="M618.8,93.0 H631.6" stroke="#333" stroke-width="0.8"/>
<path d="M618.8,98.9 H631.6" stroke="#333" stroke-width="0.8"/>
<path d="M618.8,114.5 H631.6" stroke="#333" stroke-width="0.8"/>
<path d="M618.8,125.5 H631.6" stroke="#333" stroke-width="0.8"/>
<path d="M618.8,171.7 H631.6" stroke="#333" stroke-width="0.8"/>
<path d="M618.8,176.3 H631.6" stroke="#333" stroke-width="0.8"/>
<path d="M618.8,181.4 H631.6" stroke="#333" stroke-width="0.8"/>
<path d="M618.8,187.3 H631.6" stroke="#333" stroke-width="0.8"/>
<path d="M618.8,202.9 H631.6" stroke="#333" stroke-width="0.8"/>
<path d="M618.8,213.9 H631.6" stroke="#333" stroke-width="0.8"/>
<path d="M618.8,260.1 H631.6" stroke="#333" stroke-width="0.8"/>
<path d="M618.8,264.7 H631.6" stroke="#333" stroke-width="0.8"/>
<path d="M618.8,269.8 H631.6" stroke="#333" stroke-width="0.8"/>
<path d="M618.8,275.7 H631.6" stroke="#333" stroke-width="0.8"/>
<path d="M618.8,291.3 H631.6" stroke="#333" stroke-width="0.8"/>
<path d="M618.8,302.3 H631.6" stroke="#333" stroke-width="0.8"/>
<text transform="translate(673.5,171) rotate(90)" text-anchor="middle" class="tk" style="font-size:14.4px">Resistivity (Ωm)</text>
<path d="M317.3,73.4 H429" stroke="#111" stroke-width="1.8"/>
<text x="374" y="42.8" text-anchor="middle" class="bd" style="font-size:13.1px">Numanotaira Crater</text>
<g fill="none" stroke="#111" stroke-width="1" stroke-linejoin="round" stroke-linecap="round">
<path d="M337.36,44.76 L335.98,46.15 L335.80,48.45 L334.97,50.29 L335.52,51.31 L334.05,53.06 L334.41,54.90 L332.76,56.75 L332.57,59.05 L331.56,60.89 L331.37,63.66 L332.20,65.50 L331.83,67.35 L333.03,69.19 L333.22,71.49 L334.51,72.97 L334.69,76.29"/>
<path d="M337.36,44.76 L338.56,45.87 L338.75,48.45 L339.94,49.83 L339.76,51.68 L340.68,53.06 L340.77,55.36 L342.25,56.75 L342.53,59.51 L342.99,61.82 L342.25,64.12 L342.06,66.42 L341.05,68.73 L340.77,70.57 L340.59,72.97 L340.77,76.29"/>
<path d="M334.32,55.82 L334.97,58.13 L334.32,60.43 L335.52,62.74 L335.80,65.96 L336.72,68.73 L336.44,72.97"/>
<path d="M337.82,69.19 L338.56,71.03 L338.10,72.97 L338.19,76.29"/>
</g>

<g class="wl">
<text x="67.4" y="113.7">unaltered lavas</text>
<text x="240.4" y="106.1" textLength="43.6" lengthAdjust="spacingAndGlyphs">altered</text>
<text x="247.6" y="121.3" textLength="34" lengthAdjust="spacingAndGlyphs">rocks</text>
<text x="303.9" y="113.9" textLength="35.4" lengthAdjust="spacingAndGlyphs">dense</text>
<text x="308.4" y="129.1" textLength="31" lengthAdjust="spacingAndGlyphs">rocks</text>
<text x="366.4" y="89.7">sediments</text>
<text x="444.4" y="93">sulfur-rich layer</text>
<text x="444.4" y="108.8">(low-permeability seal)</text>
</g>
<g class="wb">
<text x="171.8" y="187.5">hydrothermal</text>
<text x="171.8" y="204.8">fluid</text>
<text x="409" y="163.8">hydrothermal</text>
<text x="409" y="181">fluid conduit</text>
<text x="254.6" y="291.8" style="font-size:15.6px">hydrothermal reservoir</text>
</g>
<g fill="none" stroke="#fff">
<path d="M181.2,227.5 L121.5,172.5" stroke-width="1.3" stroke-dasharray="2.6 2.4"/>
<path d="M283.5,194.5 L269,134" stroke-width="1.3" stroke-dasharray="2.6 2.4"/>
<path d="M141.3,291.8 H73" stroke-width="1.3" stroke-dasharray="2.6 2.4"/>
<path d="M386.5,224 V160" stroke-width="3"/>
<path d="M365.4,119.8 L351.6,90.8" stroke-width="1.7"/>
<path d="M399.5,119.8 L405,109.4" stroke-width="1.7"/>
<path d="M367,97.2 Q401,103.2 436,97.4" stroke-width="3.4" stroke-dasharray="7.6 2.8"/>
</g>
<g fill="#fff" stroke="none">
<path d="M118.6,169.8 L125.4,171.2 L121,176 Z"/>
<path d="M268,130 L272.2,136 L265.8,137.4 Z"/>
<path d="M67.8,291.8 L74.6,288.6 L74.6,295 Z"/>
<path d="M386.5,150.8 L392.3,161 L380.7,161 Z"/>
<path d="M349.8,87 L355.6,91.2 L349.6,94 Z"/>
<path d="M407,105.8 L407.4,112 L402.2,109.2 Z"/>
<path d="M441,96.4 L434.6,92.6 L435.8,101 Z"/>
<path d="M361,96.4 L367.6,94 L366.8,100 Z"/>
</g>

</svg>
</body></html>
